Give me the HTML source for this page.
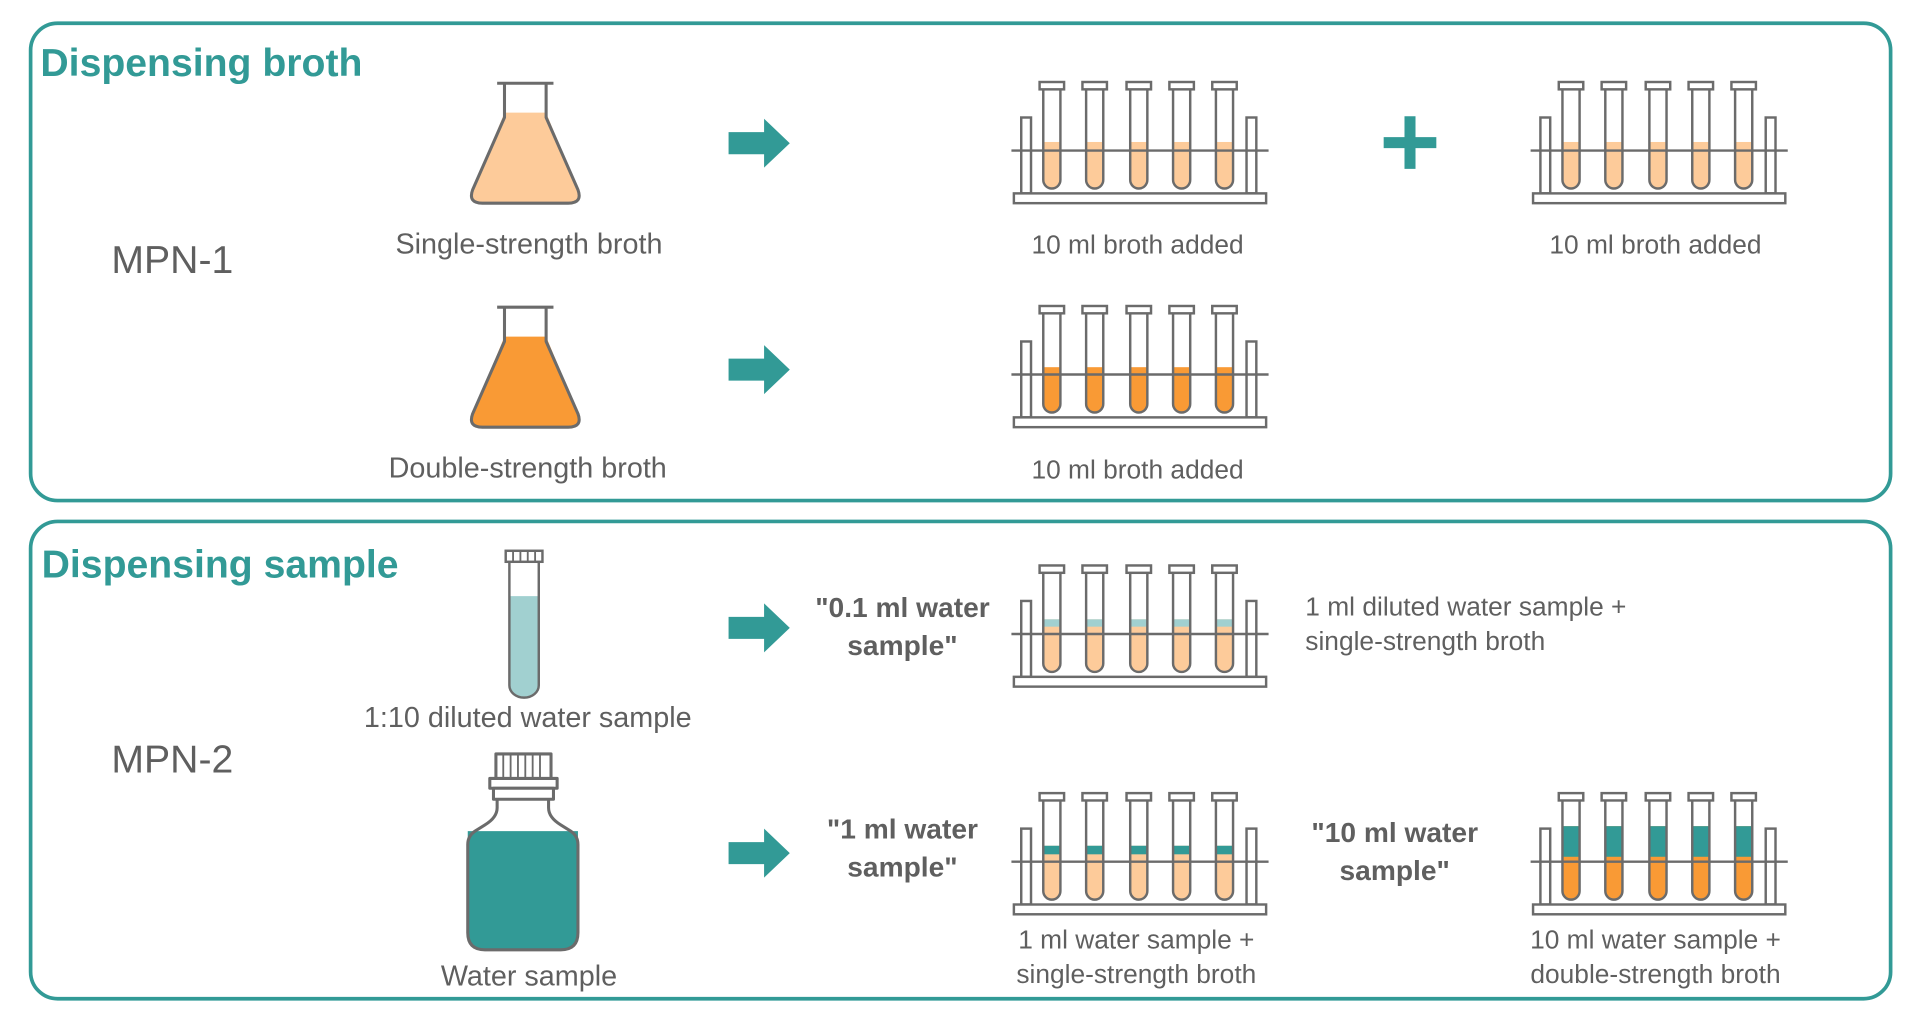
<!DOCTYPE html>
<html><head><meta charset="utf-8"><style>
html,body{margin:0;padding:0;background:#fff;width:1920px;height:1022px;overflow:hidden}
svg{display:block}
text{font-family:"Liberation Sans",Arial,sans-serif;fill:#5f5f5f}
</style></head><body>
<svg width="1920" height="1022" viewBox="0 0 1568 835" preserveAspectRatio="none" xmlns="http://www.w3.org/2000/svg">
<defs>
<g id="rack" fill="none" stroke="#6b6b6b" stroke-width="2">
  <rect x="8" y="29" width="8" height="62" fill="#fff"/>
  <rect x="192" y="29" width="8" height="62" fill="#fff"/>
  <rect x="2" y="91" width="206" height="8" fill="#fff"/>
</g>
<g id="t1" stroke="#6b6b6b" stroke-width="2"><rect x="-10" y="0" width="20" height="6" fill="#fff"/><path d="M-7 6 V80 A7 7 0 0 0 7 80 V6" fill="none"/></g>
</defs>

<rect x="25" y="19" width="1519" height="390" rx="22" fill="none" stroke="#329A96" stroke-width="3"/>
<rect x="25" y="426" width="1519" height="390" rx="22" fill="none" stroke="#329A96" stroke-width="3"/>
<text x="33" y="62" font-size="32" font-weight="bold" style="fill:#329A96">Dispensing broth</text>
<text x="34" y="472" font-size="32" font-weight="bold" style="fill:#329A96">Dispensing sample</text>
<text x="91" y="223" font-size="32">MPN-1</text>
<text x="91" y="631" font-size="32">MPN-2</text>

<g stroke="#6b6b6b" stroke-width="2.5" stroke-linejoin="round">
  <path d="M412 92 H446 L472 155 Q476 166 464 166 H394 Q382 166 386 155 Z" fill="#FDCB9A" stroke="none"/>
  <path d="M412 68 V96 L386 155 Q382 166 394 166 H464 Q476 166 472 155 L446 96 V68" fill="none"/>
  <line x1="406" y1="68" x2="452" y2="68"/>
  <path d="M412 275 H446 L472 338 Q476 349 464 349 H394 Q382 349 386 338 Z" fill="#F99A35" stroke="none"/>
  <path d="M412 251 V279 L386 338 Q382 349 394 349 H464 Q476 349 472 338 L446 279 V251" fill="none"/>
  <line x1="406" y1="251" x2="452" y2="251"/>
</g>
<text x="432" y="207" font-size="23.5" text-anchor="middle">Single-strength broth</text>
<text x="431" y="390" font-size="23.5" text-anchor="middle">Double-strength broth</text>

<g stroke="#6b6b6b" stroke-width="2">
  <path d="M416 487 H440 V560 A12 10 0 0 1 416 560 Z" fill="#A1D0D0" stroke="none"/>
  <path d="M416 459 V560 A12 10 0 0 0 440 560 V459" fill="none"/>
  <rect x="413" y="450" width="30" height="9" fill="#fff"/>
  <path d="M419 450v9M425 450v9M431 450v9M437 450v9" stroke-width="1.5"/>
</g>
<text x="431" y="594" font-size="23.5" text-anchor="middle">1:10 diluted water sample</text>

<g stroke="#6b6b6b" stroke-width="2.5" stroke-linejoin="round">
  <path d="M382 679 H472 V762 Q472 776 458 776 H396 Q382 776 382 762 Z" fill="#329A96" stroke="none"/>
  <path d="M406 653 V660 Q406 668 396 674 L388 679 Q382 683 382 690 V762 Q382 776 396 776 H458 Q472 776 472 762 V690 Q472 683 466 679 L458 674 Q448 668 448 660 V653" fill="none"/>
  <rect x="400" y="636" width="55" height="8" fill="#fff"/>
  <rect x="403" y="644" width="49" height="9" fill="#fff"/>
  <rect x="405" y="616" width="45" height="20" fill="#fff"/>
  <path d="M411 616v20M417 616v20M423 616v20M429 616v20M435 616v20M441 616v20" stroke-width="1.5"/>
</g>
<text x="432" y="805" font-size="23.5" text-anchor="middle">Water sample</text>

<g fill="#329A96">
  <path id="arr" d="M595 108 H624 V97 L645 117 L624 137 V126 H595 Z"/>
  <use href="#arr" y="185"/>
  <use href="#arr" y="396"/>
  <use href="#arr" y="580"/>
  <path d="M1147 95 h9 v17 h17 v9 h-17 v17 h-9 v-17 h-17 v-9 h17 Z"/>
</g>

<g transform="translate(826,67)">
  <use href="#rack"/>
  <g fill="#FDCB9A"><rect x="26" y="49" width="14" height="31"/><circle cx="33" cy="80" r="7"/><rect x="61" y="49" width="14" height="31"/><circle cx="68" cy="80" r="7"/><rect x="97" y="49" width="14" height="31"/><circle cx="104" cy="80" r="7"/><rect x="132" y="49" width="14" height="31"/><circle cx="139" cy="80" r="7"/><rect x="167" y="49" width="14" height="31"/><circle cx="174" cy="80" r="7"/></g>
  <use href="#t1" x="33"/><use href="#t1" x="68"/><use href="#t1" x="104"/><use href="#t1" x="139"/><use href="#t1" x="174"/>
  <line x1="0" y1="56" x2="210" y2="56" stroke="#6b6b6b" stroke-width="2"/>
</g>
<g transform="translate(1250,67)">
  <use href="#rack"/>
  <g fill="#FDCB9A"><rect x="26" y="49" width="14" height="31"/><circle cx="33" cy="80" r="7"/><rect x="61" y="49" width="14" height="31"/><circle cx="68" cy="80" r="7"/><rect x="97" y="49" width="14" height="31"/><circle cx="104" cy="80" r="7"/><rect x="132" y="49" width="14" height="31"/><circle cx="139" cy="80" r="7"/><rect x="167" y="49" width="14" height="31"/><circle cx="174" cy="80" r="7"/></g>
  <use href="#t1" x="33"/><use href="#t1" x="68"/><use href="#t1" x="104"/><use href="#t1" x="139"/><use href="#t1" x="174"/>
  <line x1="0" y1="56" x2="210" y2="56" stroke="#6b6b6b" stroke-width="2"/>
</g>
<g transform="translate(826,250)">
  <use href="#rack"/>
  <g fill="#F99A35"><rect x="26" y="50" width="14" height="30"/><circle cx="33" cy="80" r="7"/><rect x="61" y="50" width="14" height="30"/><circle cx="68" cy="80" r="7"/><rect x="97" y="50" width="14" height="30"/><circle cx="104" cy="80" r="7"/><rect x="132" y="50" width="14" height="30"/><circle cx="139" cy="80" r="7"/><rect x="167" y="50" width="14" height="30"/><circle cx="174" cy="80" r="7"/></g>
  <use href="#t1" x="33"/><use href="#t1" x="68"/><use href="#t1" x="104"/><use href="#t1" x="139"/><use href="#t1" x="174"/>
  <line x1="0" y1="56" x2="210" y2="56" stroke="#6b6b6b" stroke-width="2"/>
</g>
<g transform="translate(826,462)">
  <use href="#rack"/>
  <g fill="#FDCB9A"><rect x="26" y="44" width="14" height="36"/><circle cx="33" cy="80" r="7"/><rect x="61" y="44" width="14" height="36"/><circle cx="68" cy="80" r="7"/><rect x="97" y="44" width="14" height="36"/><circle cx="104" cy="80" r="7"/><rect x="132" y="44" width="14" height="36"/><circle cx="139" cy="80" r="7"/><rect x="167" y="44" width="14" height="36"/><circle cx="174" cy="80" r="7"/></g>
  <g fill="#A1D0D0"><rect x="26" y="44" width="14" height="6"/><rect x="61" y="44" width="14" height="6"/><rect x="97" y="44" width="14" height="6"/><rect x="132" y="44" width="14" height="6"/><rect x="167" y="44" width="14" height="6"/></g>
  <use href="#t1" x="33"/><use href="#t1" x="68"/><use href="#t1" x="104"/><use href="#t1" x="139"/><use href="#t1" x="174"/>
  <line x1="0" y1="56" x2="210" y2="56" stroke="#6b6b6b" stroke-width="2"/>
</g>
<g transform="translate(826,648)">
  <use href="#rack"/>
  <g fill="#FDCB9A"><rect x="26" y="43" width="14" height="37"/><circle cx="33" cy="80" r="7"/><rect x="61" y="43" width="14" height="37"/><circle cx="68" cy="80" r="7"/><rect x="97" y="43" width="14" height="37"/><circle cx="104" cy="80" r="7"/><rect x="132" y="43" width="14" height="37"/><circle cx="139" cy="80" r="7"/><rect x="167" y="43" width="14" height="37"/><circle cx="174" cy="80" r="7"/></g>
  <g fill="#329A96"><rect x="26" y="43" width="14" height="7"/><rect x="61" y="43" width="14" height="7"/><rect x="97" y="43" width="14" height="7"/><rect x="132" y="43" width="14" height="7"/><rect x="167" y="43" width="14" height="7"/></g>
  <use href="#t1" x="33"/><use href="#t1" x="68"/><use href="#t1" x="104"/><use href="#t1" x="139"/><use href="#t1" x="174"/>
  <line x1="0" y1="56" x2="210" y2="56" stroke="#6b6b6b" stroke-width="2"/>
</g>
<g transform="translate(1250,648)">
  <use href="#rack"/>
  <g fill="#F99A35"><rect x="26" y="27" width="14" height="53"/><circle cx="33" cy="80" r="7"/><rect x="61" y="27" width="14" height="53"/><circle cx="68" cy="80" r="7"/><rect x="97" y="27" width="14" height="53"/><circle cx="104" cy="80" r="7"/><rect x="132" y="27" width="14" height="53"/><circle cx="139" cy="80" r="7"/><rect x="167" y="27" width="14" height="53"/><circle cx="174" cy="80" r="7"/></g>
  <g fill="#329A96"><rect x="26" y="27" width="14" height="25"/><rect x="61" y="27" width="14" height="25"/><rect x="97" y="27" width="14" height="25"/><rect x="132" y="27" width="14" height="25"/><rect x="167" y="27" width="14" height="25"/></g>
  <use href="#t1" x="33"/><use href="#t1" x="68"/><use href="#t1" x="104"/><use href="#t1" x="139"/><use href="#t1" x="174"/>
  <line x1="0" y1="56" x2="210" y2="56" stroke="#6b6b6b" stroke-width="2"/>
</g>

<g font-size="21.5">
<text x="929" y="207" text-anchor="middle">10 ml broth added</text>
<text x="1352" y="207" text-anchor="middle">10 ml broth added</text>
<text x="929" y="391" text-anchor="middle">10 ml broth added</text>
<text x="1066" y="503">1 ml diluted water sample +</text>
<text x="1066" y="531">single-strength broth</text>
<text x="928" y="775" text-anchor="middle">1 ml water sample +</text>
<text x="928" y="803" text-anchor="middle">single-strength broth</text>
<text x="1352" y="775" text-anchor="middle">10 ml water sample +</text>
<text x="1352" y="803" text-anchor="middle">double-strength broth</text>
</g>
<g font-size="23" font-weight="bold" text-anchor="middle">
<text x="737" y="504">"0.1 ml water</text>
<text x="737" y="535">sample"</text>
<text x="737" y="685">"1 ml water</text>
<text x="737" y="716">sample"</text>
<text x="1139" y="688">"10 ml water</text>
<text x="1139" y="719">sample"</text>
</g>
</svg>
</body></html>
